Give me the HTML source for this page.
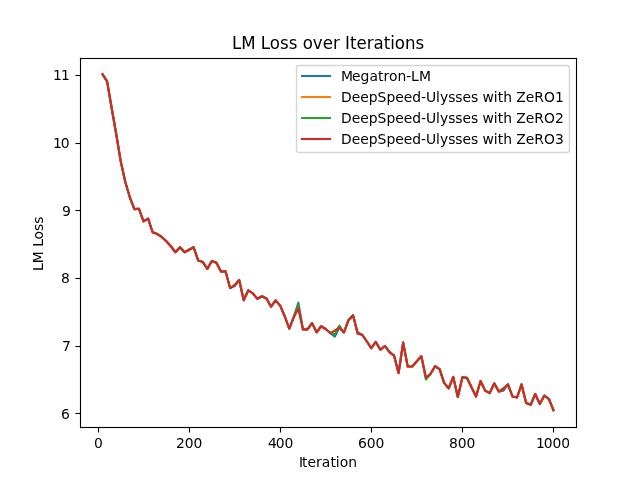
<!DOCTYPE html><html><head><meta charset="utf-8"><title>LM Loss over Iterations</title><style>html,body{margin:0;padding:0;background:#fff;}svg{display:block;}</style></head><body>
<svg width="640" height="480" viewBox="0 0 640 480">
<rect x="0" y="0" width="640" height="480" fill="#ffffff"/>
<defs><clipPath id="ax"><rect x="80" y="57.6" width="496" height="369.6"/></clipPath></defs>
<g clip-path="url(#ax)" fill="none" stroke-width="2.0833" stroke-linecap="square" stroke-linejoin="round">
<path d="M102.55 74.30 L107.10 81.40 L111.65 108.00 L116.21 134.00 L120.76 161.50 L125.32 182.00 L129.87 197.50 L134.43 209.10 L138.98 208.80 L143.54 221.40 L148.09 218.70 L152.65 232.25 L157.20 234.00 L161.76 236.90 L166.31 241.25 L170.87 246.25 L175.42 252.25 L179.97 247.25 L184.53 252.25 L189.08 249.75 L193.64 247.25 L198.19 260.60 L202.75 261.90 L207.30 269.00 L211.86 261.00 L216.41 262.80 L220.97 271.50 L225.52 271.25 L230.08 288.10 L234.63 286.00 L239.18 280.00 L243.74 300.25 L248.29 290.25 L252.85 293.50 L257.40 298.75 L261.96 296.25 L266.51 298.50 L271.07 306.70 L275.62 300.30 L280.18 305.70 L284.73 316.25 L289.29 328.75 L293.84 316.90 L298.39 302.60 L302.95 329.40 L307.50 329.40 L312.06 323.10 L316.61 332.25 L321.17 326.25 L325.72 329.00 L330.28 333.10 L334.83 336.70 L339.39 327.60 L343.94 332.50 L348.50 320.20 L353.05 314.80 L357.61 334.00 L362.16 334.75 L366.71 341.25 L371.27 348.10 L375.82 341.90 L380.38 349.75 L384.93 346.00 L389.49 352.10 L394.04 355.60 L398.60 373.10 L403.15 342.60 L407.71 366.50 L412.26 366.50 L416.82 361.25 L421.37 356.25 L425.92 377.70 L430.48 374.00 L435.03 366.25 L439.59 369.10 L444.14 382.80 L448.70 388.30 L453.25 376.90 L457.81 396.90 L462.36 377.40 L466.92 377.75 L471.47 387.25 L476.03 396.50 L480.58 381.00 L485.13 390.60 L489.69 393.10 L494.24 383.00 L498.80 391.60 L503.35 390.80 L507.91 384.40 L512.46 396.40 L517.02 397.50 L521.57 384.40 L526.13 403.10 L530.68 404.75 L535.24 394.00 L539.79 404.00 L544.35 395.60 L548.90 399.00 L553.45 410.25" stroke="#1f77b4"/>
<path d="M102.55 74.30 L107.10 81.40 L111.65 108.00 L116.21 134.00 L120.76 161.50 L125.32 182.00 L129.87 197.50 L134.43 209.10 L138.98 208.80 L143.54 221.40 L148.09 218.70 L152.65 232.25 L157.20 234.00 L161.76 236.90 L166.31 241.25 L170.87 246.25 L175.42 252.25 L179.97 247.25 L184.53 252.25 L189.08 249.75 L193.64 247.25 L198.19 260.60 L202.75 261.90 L207.30 269.00 L211.86 261.00 L216.41 262.80 L220.97 271.50 L225.52 271.25 L230.08 288.10 L234.63 285.25 L239.18 280.00 L243.74 300.25 L248.29 290.25 L252.85 293.50 L257.40 298.75 L261.96 296.25 L266.51 298.50 L271.07 306.70 L275.62 300.30 L280.18 305.70 L284.73 316.25 L289.29 328.75 L293.84 316.90 L298.39 308.50 L302.95 329.40 L307.50 329.40 L312.06 323.10 L316.61 332.25 L321.17 326.25 L325.72 329.00 L330.28 333.10 L334.83 330.60 L339.39 327.60 L343.94 332.50 L348.50 320.20 L353.05 315.60 L357.61 333.10 L362.16 334.75 L366.71 341.25 L371.27 348.10 L375.82 341.90 L380.38 349.75 L384.93 346.00 L389.49 352.10 L394.04 355.60 L398.60 373.10 L403.15 342.60 L407.71 366.50 L412.26 366.50 L416.82 361.25 L421.37 356.25 L425.92 377.70 L430.48 374.00 L435.03 366.25 L439.59 369.10 L444.14 382.80 L448.70 388.30 L453.25 376.90 L457.81 396.90 L462.36 377.40 L466.92 377.75 L471.47 387.25 L476.03 396.50 L480.58 381.00 L485.13 390.60 L489.69 393.10 L494.24 383.50 L498.80 391.60 L503.35 389.00 L507.91 384.40 L512.46 396.40 L517.02 397.50 L521.57 384.40 L526.13 403.10 L530.68 404.75 L535.24 394.00 L539.79 404.00 L544.35 395.60 L548.90 399.00 L553.45 410.25" stroke="#ff7f0e"/>
<path d="M102.55 74.30 L107.10 81.40 L111.65 108.00 L116.21 134.00 L120.76 161.50 L125.32 182.00 L129.87 197.50 L134.43 209.10 L138.98 208.80 L143.54 221.40 L148.09 218.70 L152.65 232.25 L157.20 234.00 L161.76 236.90 L166.31 241.25 L170.87 246.25 L175.42 252.25 L179.97 247.25 L184.53 252.25 L189.08 249.75 L193.64 247.25 L198.19 260.60 L202.75 261.90 L207.30 269.00 L211.86 261.00 L216.41 262.80 L220.97 271.50 L225.52 271.25 L230.08 288.10 L234.63 285.25 L239.18 280.00 L243.74 300.25 L248.29 290.25 L252.85 293.50 L257.40 298.75 L261.96 296.25 L266.51 298.50 L271.07 306.70 L275.62 300.30 L280.18 305.70 L284.73 316.25 L289.29 328.75 L293.84 316.90 L298.39 304.90 L302.95 329.40 L307.50 329.40 L312.06 323.10 L316.61 332.25 L321.17 326.25 L325.72 329.00 L330.28 333.10 L334.83 334.40 L339.39 325.60 L343.94 332.50 L348.50 320.20 L353.05 315.60 L357.61 332.30 L362.16 334.75 L366.71 341.25 L371.27 348.10 L375.82 341.90 L380.38 349.75 L384.93 346.00 L389.49 352.10 L394.04 355.60 L398.60 373.10 L403.15 342.60 L407.71 366.50 L412.26 366.50 L416.82 361.25 L421.37 356.25 L425.92 379.50 L430.48 374.00 L435.03 366.25 L439.59 369.10 L444.14 382.80 L448.70 388.30 L453.25 376.90 L457.81 396.90 L462.36 377.40 L466.92 377.75 L471.47 387.25 L476.03 396.50 L480.58 381.00 L485.13 390.60 L489.69 393.10 L494.24 383.50 L498.80 391.60 L503.35 388.00 L507.91 384.40 L512.46 396.40 L517.02 397.50 L521.57 384.40 L526.13 403.10 L530.68 404.75 L535.24 394.00 L539.79 404.00 L544.35 395.60 L548.90 399.00 L553.45 410.25" stroke="#2ca02c"/>
<path d="M102.55 74.30 L107.10 81.40 L111.65 108.00 L116.21 134.00 L120.76 161.50 L125.32 182.00 L129.87 197.50 L134.43 209.10 L138.98 208.80 L143.54 221.40 L148.09 218.70 L152.65 232.25 L157.20 234.00 L161.76 236.90 L166.31 241.25 L170.87 246.25 L175.42 252.25 L179.97 247.25 L184.53 252.25 L189.08 249.75 L193.64 247.25 L198.19 260.60 L202.75 261.90 L207.30 269.00 L211.86 261.00 L216.41 262.80 L220.97 271.50 L225.52 271.25 L230.08 288.10 L234.63 285.25 L239.18 280.00 L243.74 300.25 L248.29 290.25 L252.85 293.50 L257.40 298.75 L261.96 296.25 L266.51 298.50 L271.07 306.70 L275.62 300.30 L280.18 305.70 L284.73 316.25 L289.29 328.75 L293.84 316.90 L298.39 308.50 L302.95 329.40 L307.50 329.40 L312.06 323.10 L316.61 332.25 L321.17 326.25 L325.72 329.00 L330.28 333.10 L334.83 330.60 L339.39 327.60 L343.94 332.50 L348.50 320.20 L353.05 315.60 L357.61 333.10 L362.16 334.75 L366.71 341.25 L371.27 348.10 L375.82 341.90 L380.38 349.75 L384.93 346.00 L389.49 352.10 L394.04 355.60 L398.60 373.10 L403.15 342.60 L407.71 366.50 L412.26 366.50 L416.82 361.25 L421.37 356.25 L425.92 377.70 L430.48 374.00 L435.03 366.25 L439.59 369.10 L444.14 382.80 L448.70 388.30 L453.25 376.90 L457.81 396.90 L462.36 377.40 L466.92 377.75 L471.47 387.25 L476.03 396.50 L480.58 381.00 L485.13 390.60 L489.69 393.10 L494.24 383.50 L498.80 391.60 L503.35 389.00 L507.91 384.40 L512.46 396.40 L517.02 397.50 L521.57 384.40 L526.13 403.10 L530.68 404.75 L535.24 394.00 L539.79 404.00 L544.35 395.60 L548.90 399.00 L553.45 410.25" stroke="#d62728"/>
</g>
<g fill="#000" shape-rendering="crispEdges">
<rect x="79" y="58" width="1" height="370" fill-opacity="0.0555"/>
<rect x="80" y="57" width="1" height="1" fill-opacity="0.0555"/>
<rect x="80" y="58" width="1" height="370"/>
<rect x="80" y="428" width="1" height="1" fill-opacity="0.0555"/>
<rect x="81" y="58" width="1" height="370" fill-opacity="0.0555"/>
<rect x="575" y="58" width="1" height="370" fill-opacity="0.0556"/>
<rect x="576" y="57" width="1" height="1" fill-opacity="0.0555"/>
<rect x="576" y="58" width="1" height="370"/>
<rect x="576" y="428" width="1" height="1" fill-opacity="0.0555"/>
<rect x="577" y="58" width="1" height="370" fill-opacity="0.0556"/>
<rect x="79" y="58" width="1" height="1" fill-opacity="0.0555"/>
<rect x="80" y="57" width="497" height="1" fill-opacity="0.0555"/>
<rect x="80" y="58" width="497" height="1"/>
<rect x="80" y="59" width="497" height="1" fill-opacity="0.0555"/>
<rect x="577" y="58" width="1" height="1" fill-opacity="0.0556"/>
<rect x="79" y="427" width="1" height="1" fill-opacity="0.0555"/>
<rect x="80" y="426" width="497" height="1" fill-opacity="0.0555"/>
<rect x="80" y="427" width="497" height="1"/>
<rect x="80" y="428" width="497" height="1" fill-opacity="0.0555"/>
<rect x="577" y="427" width="1" height="1" fill-opacity="0.0556"/>
<rect x="97" y="428" width="1" height="4" fill-opacity="0.0555"/>
<rect x="97" y="432" width="1" height="1" fill-opacity="0.0278"/>
<rect x="98" y="428" width="1" height="4"/>
<rect x="98" y="432" width="1" height="1" fill-opacity="0.5000"/>
<rect x="99" y="428" width="1" height="4" fill-opacity="0.0555"/>
<rect x="99" y="432" width="1" height="1" fill-opacity="0.0278"/>
<rect x="188" y="428" width="1" height="4" fill-opacity="0.0556"/>
<rect x="188" y="432" width="1" height="1" fill-opacity="0.0278"/>
<rect x="189" y="428" width="1" height="4"/>
<rect x="189" y="432" width="1" height="1" fill-opacity="0.5000"/>
<rect x="190" y="428" width="1" height="4" fill-opacity="0.0556"/>
<rect x="190" y="432" width="1" height="1" fill-opacity="0.0278"/>
<rect x="279" y="428" width="1" height="4" fill-opacity="0.0555"/>
<rect x="279" y="432" width="1" height="1" fill-opacity="0.0278"/>
<rect x="280" y="428" width="1" height="4"/>
<rect x="280" y="432" width="1" height="1" fill-opacity="0.5000"/>
<rect x="281" y="428" width="1" height="4" fill-opacity="0.0555"/>
<rect x="281" y="432" width="1" height="1" fill-opacity="0.0278"/>
<rect x="370" y="428" width="1" height="4" fill-opacity="0.0555"/>
<rect x="370" y="432" width="1" height="1" fill-opacity="0.0278"/>
<rect x="371" y="428" width="1" height="4"/>
<rect x="371" y="432" width="1" height="1" fill-opacity="0.5000"/>
<rect x="372" y="428" width="1" height="4" fill-opacity="0.0555"/>
<rect x="372" y="432" width="1" height="1" fill-opacity="0.0278"/>
<rect x="461" y="428" width="1" height="4" fill-opacity="0.0555"/>
<rect x="461" y="432" width="1" height="1" fill-opacity="0.0278"/>
<rect x="462" y="428" width="1" height="4"/>
<rect x="462" y="432" width="1" height="1" fill-opacity="0.5000"/>
<rect x="463" y="428" width="1" height="4" fill-opacity="0.0555"/>
<rect x="463" y="432" width="1" height="1" fill-opacity="0.0278"/>
<rect x="552" y="428" width="1" height="4" fill-opacity="0.0556"/>
<rect x="552" y="432" width="1" height="1" fill-opacity="0.0278"/>
<rect x="553" y="428" width="1" height="4"/>
<rect x="553" y="432" width="1" height="1" fill-opacity="0.5000"/>
<rect x="554" y="428" width="1" height="4" fill-opacity="0.0556"/>
<rect x="554" y="432" width="1" height="1" fill-opacity="0.0278"/>
<rect x="75" y="74" width="1" height="1" fill-opacity="0.0278"/>
<rect x="75" y="75" width="1" height="1" fill-opacity="0.5000"/>
<rect x="75" y="76" width="1" height="1" fill-opacity="0.0278"/>
<rect x="76" y="74" width="4" height="1" fill-opacity="0.0555"/>
<rect x="76" y="75" width="4" height="1"/>
<rect x="76" y="76" width="4" height="1" fill-opacity="0.0555"/>
<rect x="75" y="142" width="1" height="1" fill-opacity="0.0278"/>
<rect x="75" y="143" width="1" height="1" fill-opacity="0.5000"/>
<rect x="75" y="144" width="1" height="1" fill-opacity="0.0278"/>
<rect x="76" y="142" width="4" height="1" fill-opacity="0.0556"/>
<rect x="76" y="143" width="4" height="1"/>
<rect x="76" y="144" width="4" height="1" fill-opacity="0.0556"/>
<rect x="75" y="209" width="1" height="1" fill-opacity="0.0278"/>
<rect x="75" y="210" width="1" height="1" fill-opacity="0.5000"/>
<rect x="75" y="211" width="1" height="1" fill-opacity="0.0278"/>
<rect x="76" y="209" width="4" height="1" fill-opacity="0.0556"/>
<rect x="76" y="210" width="4" height="1"/>
<rect x="76" y="211" width="4" height="1" fill-opacity="0.0556"/>
<rect x="75" y="277" width="1" height="1" fill-opacity="0.0278"/>
<rect x="75" y="278" width="1" height="1" fill-opacity="0.5000"/>
<rect x="75" y="279" width="1" height="1" fill-opacity="0.0278"/>
<rect x="76" y="277" width="4" height="1" fill-opacity="0.0555"/>
<rect x="76" y="278" width="4" height="1"/>
<rect x="76" y="279" width="4" height="1" fill-opacity="0.0555"/>
<rect x="75" y="345" width="1" height="1" fill-opacity="0.0278"/>
<rect x="75" y="346" width="1" height="1" fill-opacity="0.5000"/>
<rect x="75" y="347" width="1" height="1" fill-opacity="0.0278"/>
<rect x="76" y="345" width="4" height="1" fill-opacity="0.0555"/>
<rect x="76" y="346" width="4" height="1"/>
<rect x="76" y="347" width="4" height="1" fill-opacity="0.0555"/>
<rect x="75" y="412" width="1" height="1" fill-opacity="0.0278"/>
<rect x="75" y="413" width="1" height="1" fill-opacity="0.5000"/>
<rect x="75" y="414" width="1" height="1" fill-opacity="0.0278"/>
<rect x="76" y="412" width="4" height="1" fill-opacity="0.0555"/>
<rect x="76" y="413" width="4" height="1"/>
<rect x="76" y="414" width="4" height="1" fill-opacity="0.0555"/>
</g>
<text font-family="'DejaVu Sans', 'Liberation Sans', sans-serif" fill="#000" id="title" x="-95.97 -86.71 -72.59 -67.30 -58.32 -48.14 -39.21 -30.79 -25.25 -15.30 -5.21 5.04 11.63 16.92 21.83 28.35 38.61 45.45 55.64 62.17 66.81 76.99 87.54" y="0" font-size="16.6667" transform="translate(328.06 48.66) scale(1 1.0450)">LM Loss over Iterations</text>
<text font-family="'DejaVu Sans', 'Liberation Sans', sans-serif" fill="#000" id="xlabel" x="-28.45 -25.37 -19.93 -11.38 -5.68 3.09 8.28 12.39 20.88" y="0" font-size="13.8889" transform="translate(327.47 466.56) scale(1 0.9975)">Iteration</text>
<text font-family="'DejaVu Sans', 'Liberation Sans', sans-serif" fill="#000" id="ylabel" x="-27.29 -19.57 -7.59 -2.92 4.31 12.82 20.04" y="0" font-size="13.8889" transform="translate(42.53 243.79) rotate(-90) scale(1 1.0500)">LM Loss</text>
<text font-family="'DejaVu Sans', 'Liberation Sans', sans-serif" fill="#000" id="xt0" x="-4.42" y="0" font-size="13.8889" transform="translate(98.38 447.60) scale(1 0.9785)">0</text>
<text font-family="'DejaVu Sans', 'Liberation Sans', sans-serif" fill="#000" id="xt200" x="-13.00 -4.18 4.66" y="0" font-size="13.8889" transform="translate(188.97 447.53) scale(1 0.9975)">200</text>
<text font-family="'DejaVu Sans', 'Liberation Sans', sans-serif" fill="#000" id="xt400" x="-12.12 -4.42 4.40" y="0" font-size="13.8889" transform="translate(280.05 447.75) scale(1 0.9879)">400</text>
<text font-family="'DejaVu Sans', 'Liberation Sans', sans-serif" fill="#000" id="xt600" x="-13.00 -4.43 4.41" y="0" font-size="13.8889" transform="translate(371.05 447.61) scale(1 1.0500)">600</text>
<text font-family="'DejaVu Sans', 'Liberation Sans', sans-serif" fill="#000" id="xt800" x="-13.25 -4.43 4.16" y="0" font-size="13.8889" transform="translate(462.28 447.57) scale(1 1.0500)">800</text>
<text font-family="'DejaVu Sans', 'Liberation Sans', sans-serif" fill="#000" id="xt1000" x="-16.66 -8.83 -0.26 8.57" y="0" font-size="13.8889" transform="translate(552.63 447.55) scale(1 0.9676)">1000</text>
<text font-family="'DejaVu Sans', 'Liberation Sans', sans-serif" fill="#000" id="yt6" x="-8.83" y="0" font-size="13.8889" transform="translate(69.76 418.69)">6</text>
<text font-family="'DejaVu Sans', 'Liberation Sans', sans-serif" fill="#000" id="yt7" x="-8.84" y="0" font-size="13.8889" transform="translate(70.86 350.52) scale(1 0.9975)">7</text>
<text font-family="'DejaVu Sans', 'Liberation Sans', sans-serif" fill="#000" id="yt8" x="-8.84" y="0" font-size="13.8889" transform="translate(69.96 282.74) scale(1 1.0500)">8</text>
<text font-family="'DejaVu Sans', 'Liberation Sans', sans-serif" fill="#000" id="yt9" x="-8.84" y="0" font-size="13.8889" transform="translate(70.84 215.75) scale(1 1.0500)">9</text>
<text font-family="'DejaVu Sans', 'Liberation Sans', sans-serif" fill="#000" id="yt10" x="-16.67 -9.10" y="0" font-size="13.8889" transform="translate(69.74 147.64) scale(1 0.9991)">10</text>
<text font-family="'DejaVu Sans', 'Liberation Sans', sans-serif" fill="#000" id="yt11" x="-16.92 -8.85" y="0" font-size="13.8889" transform="translate(69.95 79.61) scale(1 1.0185)">11</text>
<path d="M299.2778 152.5 L566.7222 152.5 Q569.5 152.5 569.5 149.7222 L569.5 68.2778 Q569.5 65.5 566.7222 65.5 L299.2778 65.5 Q296.5 65.5 296.5 68.2778 L296.5 149.7222 Q296.5 152.5 299.2778 152.5 Z" fill="#fff" stroke="#ccc" stroke-width="1.3889" opacity="0.8"/>
<line x1="302" y1="76" x2="330" y2="76" stroke="#1f77b4" stroke-width="2.0833" stroke-linecap="square"/>
<line x1="302" y1="97" x2="330" y2="97" stroke="#ff7f0e" stroke-width="2.0833" stroke-linecap="square"/>
<line x1="302" y1="118" x2="330" y2="118" stroke="#2ca02c" stroke-width="2.0833" stroke-linecap="square"/>
<line x1="302" y1="139" x2="330" y2="139" stroke="#d62728" stroke-width="2.0833" stroke-linecap="square"/>
<text font-family="'DejaVu Sans', 'Liberation Sans', sans-serif" fill="#000" id="leg0" x="0.75 11.73 20.26 29.32 37.84 43.28 48.80 57.18 65.97 70.73 78.71" y="0" font-size="13.8889" transform="translate(340.21 80.63) scale(1 1.0500)">Megatron-LM</text>
<text font-family="'DejaVu Sans', 'Liberation Sans', sans-serif" fill="#000" id="leg1" x="0.00 10.92 19.46 27.74 36.55 45.59 54.40 62.93 71.23 80.02 85.04 95.19 99.05 107.25 114.48 121.70 129.99 137.46 141.62 152.97 156.82 162.26 171.30 175.46 184.97 193.25 203.14 214.06" y="0" font-size="13.8889" transform="translate(340.90 101.59) scale(1 1.0185)">DeepSpeed-Ulysses with ZeRO1</text>
<text font-family="'DejaVu Sans', 'Liberation Sans', sans-serif" fill="#000" id="leg2" x="0.25 10.92 19.46 27.99 36.68 45.59 54.40 62.93 71.48 80.27 85.29 95.19 99.05 107.50 114.48 121.70 130.24 137.46 141.62 152.97 156.82 162.51 171.30 175.46 184.97 193.50 203.14 214.06" y="0" font-size="13.8889" transform="translate(340.83 122.54) scale(1 1.0185)">DeepSpeed-Ulysses with ZeRO2</text>
<text font-family="'DejaVu Sans', 'Liberation Sans', sans-serif" fill="#000" id="leg3" x="0.00 10.67 19.21 27.74 36.55 45.59 54.40 62.68 71.23 80.02 85.04 94.94 99.05 107.25 114.23 121.45 129.99 137.46 141.62 152.72 156.82 162.26 171.30 175.21 184.72 193.25 203.14 214.06" y="0" font-size="13.8889" transform="translate(340.97 143.73) scale(1 1.0491)">DeepSpeed-Ulysses with ZeRO3</text>
</svg></body></html>
